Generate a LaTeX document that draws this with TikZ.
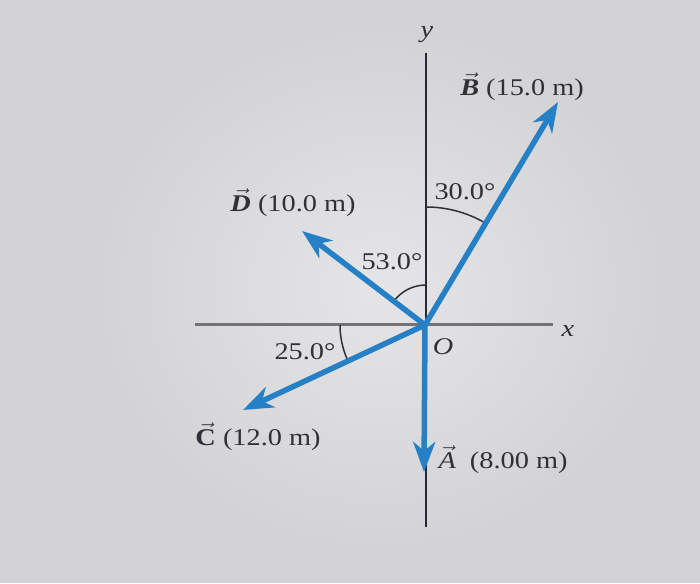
\documentclass[tikz,border=0pt]{standalone}
\usepackage{fontspec}
\setmainfont{Liberation Serif}
\usetikzlibrary{arrows.meta}
\definecolor{bgc}{RGB}{210,210,213}
\definecolor{bgl}{RGB}{229,229,231}
\definecolor{vecblue}{RGB}{38,128,198}
\definecolor{txt}{RGB}{48,48,55}
\definecolor{xax}{RGB}{115,115,118}
\definecolor{yax}{RGB}{40,40,52}
\newcommand\vlab[1]{\ensuremath{\vec{\hbox{#1}}}}
\tikzset{
  vecarrow/.style={draw=vecblue, line width=5.5pt, -{Stealth[length=30pt,width=22pt,inset=9pt]}},
  lab/.style={text=txt, font=\fontsize{24}{27}\selectfont, xscale=1.18, inner sep=0pt},
  anglearc/.style={draw=txt, line width=1.5pt},
}
\begin{document}
\begin{tikzpicture}[x=1pt,y=1pt]
\useasboundingbox (0,0) rectangle (700,583);
\fill[bgc] (0,0) rectangle (700,583);
\shade[inner color=bgl, outer color=bgc] (80,20) rectangle (680,570);
% axes
\coordinate (O) at (425,258);
\coordinate (ytop) at (426,530);
\coordinate (ybot) at (426,56);
\coordinate (xl) at (195,258);
\coordinate (xr) at (553,258);
\draw[xax, line width=3pt] (xl) -- (xr);
\draw[yax, line width=1.8pt] (ybot) -- (ytop);
% vector tips
\coordinate (Bt) at (558,481);
\coordinate (Dt) at (302,352);
\coordinate (Ct) at (243,173);
\coordinate (At) at (424,111);
% angle arcs
\draw[anglearc] (426,376) arc[start angle=90, end angle=60, radius=118];
\draw[anglearc] (426,298) arc[start angle=90, end angle=143, radius=40];
\draw[anglearc] (340,258) arc[start angle=180, end angle=205, radius=85];
% vectors
\draw[vecarrow] (O) -- (Bt);
\draw[vecarrow] (O) -- (Dt);
\draw[vecarrow] (O) -- (Ct);
\draw[vecarrow] (O) -- (At);
% labels
\node[lab] (ylab) at (427,548) {\textit{y}};
\node[lab] (xlab) at (568,252) {\textit{x}};
\node[lab] (Olab) at (443,236) {\textit{O}};
\node[lab] (Blab) at (522,496) {\vlab{\bfseries\itshape B} (15.0 m)};
\node[lab] (Dlab) at (293,380) {\vlab{\bfseries\itshape D} (10.0 m)};
\node[lab] (Clab) at (258,146) {\vlab{\bfseries C} (12.0 m)};
\node[lab] (Alab) at (503,123) {\vlab{\itshape A}\ \ (8.00 m)};
\node[lab] (a30) at (465,391) {30.0°};
\node[lab] (a53) at (392,321) {53.0°};
\node[lab] (a25) at (305,231) {25.0°};
\end{tikzpicture}
\end{document}
